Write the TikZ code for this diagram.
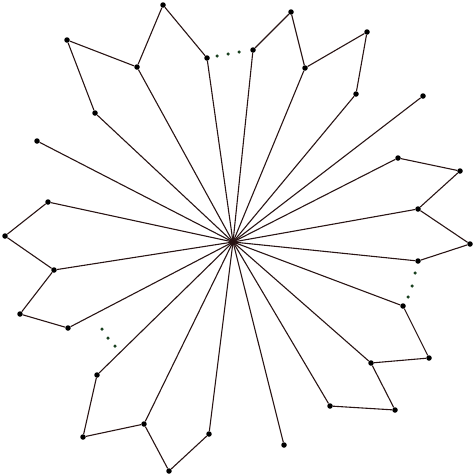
\documentclass[tikz,border=0pt]{standalone}
\usetikzlibrary{calc}
\definecolor{linec}{rgb}{0.16,0.08,0.08}
\definecolor{dotc}{rgb}{0.1,0.25,0.12}
\begin{document}
\begin{tikzpicture}[x=1pt,y=-1pt,
  vtx/.style={circle,fill=black,inner sep=0pt,minimum size=5.5pt},
  ctr/.style={circle,fill=black,inner sep=0pt,minimum size=6pt},
  edge/.style={draw=linec,line width=1.1pt},
  gap/.style={circle,fill=dotc,inner sep=0pt,minimum size=3.5pt}]
\useasboundingbox (0,0) rectangle (474,474);
\node[ctr] (O) at (233,242) {};
% vertices
\node[vtx] (A) at (163,5) {};
\node[vtx] (B) at (207,58) {};
\node[vtx] (C) at (67,40) {};
\node[vtx] (D) at (137,67) {};
\node[vtx] (E) at (95,113) {};
\node[vtx] (F) at (37,141) {};
\node[vtx] (G) at (48,202) {};
\node[vtx] (H) at (5,236) {};
\node[vtx] (R) at (54,270) {};
\node[vtx] (S) at (20,314) {};
\node[vtx] (T) at (68,328) {};
\node[vtx] (U) at (97,375) {};
\node[vtx] (V) at (83,437) {};
\node[vtx] (W) at (144,424) {};
\node[vtx] (X) at (169,471) {};
\node[vtx] (Y) at (209,434) {};
\node[vtx] (GG) at (284,445) {};
\node[vtx] (FF) at (330,406) {};
\node[vtx] (EE) at (395,410) {};
\node[vtx] (DD) at (371,363) {};
\node[vtx] (CC) at (429,358) {};
\node[vtx] (BB) at (403,306) {};
\node[vtx] (AA) at (418,261) {};
\node[vtx] (Z) at (470,244) {};
\node[vtx] (Q) at (418,209) {};
\node[vtx] (P) at (460,171) {};
\node[vtx] (Pn) at (398,158) {};
\node[vtx] (N) at (423,96) {};
\node[vtx] (M) at (356,94) {};
\node[vtx] (L) at (367,32) {};
\node[vtx] (K) at (305,68) {};
\node[vtx] (J) at (291,12) {};
\node[vtx] (I) at (253,50) {};
% spokes
\foreach \v in {B,D,E,F,G,R,T,U,W,Y,GG,FF,DD,BB,AA,Q,Pn,N,M,K,I}
  \draw[edge] (O.center) -- (\v);
% outer edges
\draw[edge] (B) -- (A) -- (D) -- (C) -- (E);
\draw[edge] (G) -- (H) -- (R) -- (S) -- (T);
\draw[edge] (U) -- (V) -- (W) -- (X) -- (Y);
\draw[edge] (FF) -- (EE) -- (DD) -- (CC) -- (BB);
\draw[edge] (AA) -- (Z) -- (Q) -- (P) -- (Pn);
\draw[edge] (M) -- (L) -- (K) -- (J) -- (I);
% gaps
\node[gap] (g1) at (217,56) {};
\node[gap] (g2) at (228,54) {};
\node[gap] (g3) at (239,52) {};
\node[gap] (g4) at (102,329) {};
\node[gap] (g5) at (108,338) {};
\node[gap] (g6) at (115,346) {};
\node[gap] (g7) at (415,273) {};
\node[gap] (g8) at (412,286) {};
\node[gap] (g9) at (408,297) {};
\end{tikzpicture}
\end{document}
